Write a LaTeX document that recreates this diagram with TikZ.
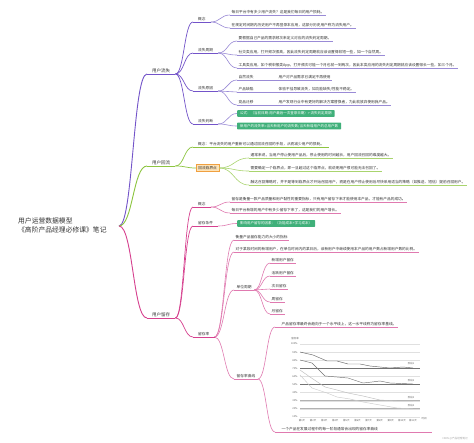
\documentclass[tikz,border=0pt]{standalone}
\usepackage{fontspec}
\setmainfont{Noto Sans CJK SC}
\usetikzlibrary{calc}
\definecolor{cP}{HTML}{7354C9}
\definecolor{cPl}{HTML}{9A8BD6}
\definecolor{cG}{HTML}{8DC540}
\definecolor{cGl}{HTML}{A9D46E}
\definecolor{cM}{HTML}{D6408E}
\definecolor{cMl}{HTML}{E07AB0}
\definecolor{cBox}{HTML}{40B07A}
\definecolor{cOrF}{HTML}{FDE3B8}
\definecolor{cOrD}{HTML}{F0A040}
\definecolor{txt}{HTML}{333333}
\newcommand\mmlink[3][]{\draw[#1] let \p1=(#2), \p2=(#3) in (\p1) .. controls ({(\x1+\x2)/2},\y1) and ({(\x1+\x2)/2},\y2) .. (\p2);}
\begin{document}
\begin{tikzpicture}[x=1pt,y=-1pt,
  roottext/.style={anchor=west, align=left, text=txt, font=\fontsize{6.8}{9}\selectfont, inner sep=0pt},
  lvlone/.style={font=\fontsize{4.5}{5}\selectfont, text=txt, inner xsep=5pt, inner ysep=1pt, anchor=south west},
  lvltwo/.style={font=\fontsize{3.7}{4.2}\selectfont, text=txt, inner xsep=5pt, inner ysep=0.8pt, anchor=south west},
  lvlthree/.style={font=\fontsize{3.7}{4.2}\selectfont, text=txt, inner xsep=2.5pt, inner ysep=0.8pt, anchor=south west},
  leaf/.style={font=\fontsize{3.7}{4.2}\selectfont, text=txt, inner xsep=1.5pt, inner ysep=0.8pt, anchor=south west},
  gbox/.style={fill=cBox, text=white, font=\fontsize{3.5}{4}\selectfont, inner xsep=3pt, inner ysep=1.6pt, rounded corners=0.6pt, anchor=west},
  obox/.style={fill=cOrF, draw=cOrD, line width=0.4pt, text=txt, font=\fontsize{3.7}{4.2}\selectfont, inner xsep=2.2pt, inner ysep=1.8pt, anchor=west},
  brP/.style={draw=cP, line width=0.9pt},
  brPs/.style={draw=cP, line width=0.7pt},
  brPl/.style={draw=cPl, line width=0.6pt},
  brG/.style={draw=cG, line width=0.9pt},
  brGs/.style={draw=cG, line width=0.7pt},
  brGl/.style={draw=cGl, line width=0.6pt},
  brM/.style={draw=cM, line width=0.9pt},
  brMs/.style={draw=cM, line width=0.7pt},
  brMl/.style={draw=cMl, line width=0.6pt},
  axlab/.style={font=\fontsize{2.5}{3}\selectfont, text=black!60, inner sep=0.3pt}
]
\fill[white] (0,0) rectangle (474,442);
\useasboundingbox (0,0) rectangle (474,442);

% root
\node[roottext] (root) at (18,225) {用户运营数据模型\\《高阶产品经理必修课》笔记};
\coordinate (rootc) at (119,226);

% ===== 用户流失 =====
\node[lvlone] (ls) at (147,74) {用户流失};
\node[lvltwo] (ls1) at (193,22) {概念};
\node[lvltwo] (ls2) at (193,53) {流失周期};
\node[lvltwo] (ls3) at (193,91) {流失原因};
\node[lvltwo] (ls4) at (193,124) {流失判断};
\node[leaf] (ls1a) at (230,15) {每日平台中有多少用户流失？这是我们每日的用户损耗。};
\node[leaf] (ls1b) at (230,28) {在规定时间期内历史用户不再登录本应用，这部分历史用户称为流失用户。};
\node[leaf] (ls2a) at (237,41) {要根据自己产品的需求频次来定义对应的流失判定周期。};
\node[leaf] (ls2b) at (237,55) {社交类应用，打开频次很高，因此流失判定周期就应该设置得较短一些，如一个自然周。};
\node[leaf] (ls2c) at (237,68) {工具类应用，如个税申报类App，打开频次可能一个月也就一到两次，因此本类应用的流失判定周期就应该设置得长一些，如三个月。};
\node[leaf] (ls3a) at (237,80) {\makebox[40pt][l]{自然流失}用户对产品需求已满足不再使用};
\node[leaf] (ls3b) at (237,92) {\makebox[40pt][l]{产品缺陷}体验不佳导致流失，如功能缺失/性能不稳定。};
\node[leaf] (ls3c) at (237,105) {\makebox[40pt][l]{竞品迁移}用户发现行业中有更好的解决方案替换者，为此就放弃使用我产品。};
\node[gbox] (ls4a) at (237,113.5) {公式：（当前日期-用户最后一次登录日期）> 流失判定周期};
\node[gbox] (ls4b) at (237,126) {新用户的流失率=当天新用户的流失数/当天新增用户的总用户数};

\mmlink[brP]{rootc}{ls.south west}
\foreach \q in {ls1,ls2,ls3,ls4}{\mmlink[brPs]{ls.south east}{\q.south west}}
\foreach \q in {ls1a,ls1b}{\mmlink[brPl]{ls1.south east}{\q.south west}}
\foreach \q in {ls2a,ls2b,ls2c}{\mmlink[brPl]{ls2.south east}{\q.south west}}
\foreach \q in {ls3a,ls3b,ls3c}{\mmlink[brPl]{ls3.south east}{\q.south west}}
\foreach \q in {ls4a,ls4b}{\mmlink[brPl]{ls4.south east}{\q.west}}
\draw[brP] (ls.south west) -- (ls.south east);
\foreach \q in {ls1,ls2,ls3,ls4}{\draw[brPs] (\q.south west) -- (\q.south east);}
\foreach \q in {ls1a,ls1b,ls2a,ls2b,ls2c,ls3a,ls3b,ls3c}{\draw[brPl] (\q.south west) -- (\q.south east);}

% ===== 用户回流 =====
\node[lvlone] (hl) at (147,166) {用户回流};
\node[lvltwo] (hl1) at (193,147) {概念：平台流失的用户重新可以通过回流召回的手段，从而减少用户的损耗。};
\node[obox] (hl2) at (196,168) {回流临界点};
\node[leaf] (hl2a) at (249,158) {通常来说，当用户停止使用产品后，停止使用的时间越长，用户回流召回的难度越大。};
\node[leaf] (hl2b) at (249,171) {需要确定一个临界点，即一旦超过这个临界点，就说明用户很可能无法召回了。};
\node[leaf] (hl2c) at (249,185) {触达召回策略时，并不是等到临界点才开始召回用户，而是在用户停止使用后尽快采用适当的策略（如推送、短信）提前召回用户。};

\mmlink[brG]{rootc}{hl.south west}
\mmlink[brGs]{hl.south east}{hl1.south west}
\mmlink[brGs]{hl.south east}{hl2.west}
\foreach \q in {hl2a,hl2b,hl2c}{\mmlink[brGl]{hl2.east}{\q.south west}}
\draw[brG] (hl.south west) -- (hl.south east);
\draw[brGs] (hl1.south west) -- (hl1.south east);
\foreach \q in {hl2a,hl2b,hl2c}{\draw[brGl] (\q.south west) -- (\q.south east);}

% ===== 用户留存 =====
\node[lvlone] (lc) at (147,318) {用户留存};
\node[lvltwo] (lc1) at (193,207) {概念};
\node[lvltwo] (lc2) at (193,226) {留存条件};
\node[lvltwo] (lc3) at (193,337) {留存率};
\node[leaf] (lc1a) at (230,202) {留存是衡量一款产品质量和用户黏性的重要指标，只有用户留存下来才能使用本产品，才能有产品的成功。};
\node[leaf] (lc1b) at (230,213) {每日平台新增的用户中有多少留存下来了，这是我们的用户增长。};
\node[gbox] (lc2a) at (237,223.5) {影响用户留存的因素：（功能成本+学习成本）};
\node[leaf] (lc3a) at (234,240) {衡量产品留存能力的大小的指标};
\node[leaf] (lc3b) at (234,252) {对于某段时间的新增用户，在单位时间内的某日后，该新用户中继续使用本产品的用户数占新增用户数的比例。};
\node[lvlthree] (lc3c) at (234,290) {单位周期};
\node[lvlthree] (lc3d) at (234,379) {留存率曲线};
\node[leaf] (u1) at (270,263) {新增用户留存};
\node[leaf] (u2) at (270,276) {活跃用户留存};
\node[leaf] (u3) at (270,289) {次日留存};
\node[leaf] (u4) at (270,302) {周留存};
\node[leaf] (u5) at (270,314) {月留存};
\node[leaf] (lc3d1) at (275,327) {\hspace{5pt}产品留存率最终会趋向于一个水平线上，这一水平线称为留存率基线。};
\node[leaf, text width=154pt, align=left] (lc3d2) at (275,432) {\hspace{5pt}一个产品在发展过程中的每一阶段通常会出现的留存率曲线};

\mmlink[brM]{rootc}{lc.south west}
\foreach \q in {lc1,lc2,lc3}{\mmlink[brMs]{lc.south east}{\q.south west}}
\foreach \q in {lc1a,lc1b}{\mmlink[brMl]{lc1.south east}{\q.south west}}
\mmlink[brMl]{lc2.south east}{lc2a.west}
\foreach \q in {lc3a,lc3b,lc3c,lc3d}{\mmlink[brMl]{lc3.south east}{\q.south west}}
\foreach \q in {u1,u2,u3,u4,u5}{\mmlink[brMl]{lc3c.south east}{\q.south west}}
\foreach \q in {lc3d1,lc3d2}{\mmlink[brMl]{lc3d.south east}{\q.south west}}
\draw[brM] (lc.south west) -- (lc.south east);
\foreach \q in {lc1,lc2,lc3}{\draw[brMs] (\q.south west) -- (\q.south east);}
\foreach \q in {lc1a,lc1b,lc3a,lc3b,lc3c,lc3d,u1,u2,u3,u4,u5,lc3d1,lc3d2}{\draw[brMl] (\q.south west) -- (\q.south east);}

% ===== chart =====
\node[axlab] (ctitle) at (295,339) {留存率};
\foreach \v [count=\k from 0] in {100,90,...,10}{
  \pgfmathsetmacro\yy{344+\k*8.1}
  \node[axlab, anchor=east] at (298,\yy) {\v\%};
  \draw[black!12, line width=0.3pt] (300,\yy) -- (420,\yy);
}
\draw[black!55, line width=0.5pt] (300,368.3) -- (420,368.3);
\draw[black!55, line width=0.5pt] (300,384.5) -- (420,384.5);
\draw[black!30, line width=0.5pt] (300,400.7) -- (420,400.7);
\draw[black!30, line width=0.7pt] (300,408.8) -- (420,408.8);
\foreach \i in {0,...,10}{
  \pgfmathsetmacro\xx{302+11.1*\i}
  \pgfmathtruncatemacro\dd{\i+1}
  \node[axlab] at (\xx,421) {第\dd 天};
}
\node[axlab] at (424,419) {时间};
\draw[black!60, line width=0.45pt] plot coordinates {(300,352) (313,355) (327,361) (337,361) (348,364) (360,364) (370,366) (380,367) (390,368) (403,367) (413,368)};
\draw[black!55, line width=0.45pt] plot coordinates {(300,360) (312,363) (325,376) (337,377) (348,378) (363,383) (372,382) (380,381) (390,383) (413,384)};
\draw[black!25, line width=0.45pt] plot coordinates {(300,370) (310,377) (325,387) (337,390) (348,393) (363,396) (380,400) (397,401) (413,401)};
\draw[black!20, line width=0.45pt] plot coordinates {(300,375) (312,388) (327,393) (337,397) (350,399) (363,402) (380,405) (397,408) (413,409)};
\node[axlab] at (411,364) {阶段1};
\node[axlab] at (411,381) {阶段2};
\node[axlab] at (411,398) {阶段3};
\node[axlab] at (411,405.5) {阶段4};

% watermark
\node[font=\fontsize{2.6}{3}\selectfont, text=black!35, inner sep=0pt] (wm) at (455,439) {CSDN @产品经理笔记};
\end{tikzpicture}
\end{document}
